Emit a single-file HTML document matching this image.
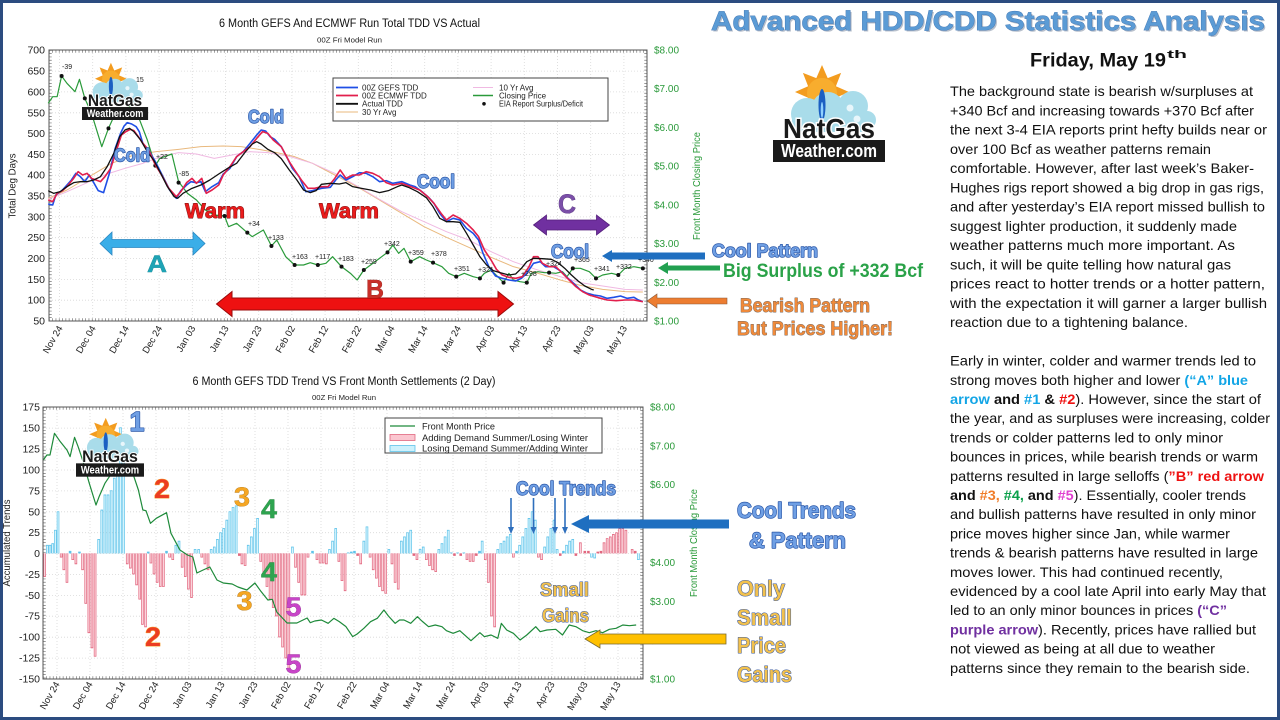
<!DOCTYPE html>
<html><head><meta charset="utf-8">
<style>
html,body{margin:0;padding:0;background:#fff;}
body{width:1280px;height:720px;overflow:hidden;}
svg{display:block;font-family:"Liberation Sans",Arial,sans-serif;}
.ax{font-size:10.5px;fill:#222;}
.axr{font-size:10px;fill:#2a9a3a;}
.tk{font-size:9.5px;fill:#222;}
.eia{font-size:7px;fill:#222;}
.lg{font-size:8px;fill:#222;}
.lg2{font-size:9.5px;fill:#222;}
.ann{font-weight:bold;paint-order:stroke;stroke-linejoin:round;}
.blu{fill:#6f9fe4;stroke:#2c58a8;stroke-width:1.4;}
.wrm{fill:#ea1c1c;stroke:#7a1010;stroke-width:0.9;}
.p{font-size:14px;fill:#111;white-space:pre;}
.b{font-weight:bold;}
</style></head>
<body>
<svg width="1280" height="720" viewBox="0 0 1280 720" xmlns="http://www.w3.org/2000/svg">
<rect x="0" y="0" width="1280" height="720" fill="#fff"/>

<!-- ================= TOP CHART ================= -->
<text x="349.5" y="27" text-anchor="middle" font-size="11.5" fill="#111" textLength="261" lengthAdjust="spacingAndGlyphs">6 Month GEFS And ECMWF Run Total TDD VS Actual</text>
<text x="349.5" y="42.5" text-anchor="middle" font-size="7" fill="#222" textLength="65" lengthAdjust="spacingAndGlyphs">00Z Fri Model Run</text>

<!-- grid -->
<g stroke="#d8d8d8" stroke-width="0.8" stroke-dasharray="1 2">
<line x1="49" x2="647" y1="300.2" y2="300.2"/><line x1="49" x2="647" y1="279.4" y2="279.4"/><line x1="49" x2="647" y1="258.5" y2="258.5"/><line x1="49" x2="647" y1="237.7" y2="237.7"/><line x1="49" x2="647" y1="216.9" y2="216.9"/><line x1="49" x2="647" y1="196.1" y2="196.1"/><line x1="49" x2="647" y1="175.2" y2="175.2"/><line x1="49" x2="647" y1="154.4" y2="154.4"/><line x1="49" x2="647" y1="133.6" y2="133.6"/><line x1="49" x2="647" y1="112.8" y2="112.8"/><line x1="49" x2="647" y1="91.9" y2="91.9"/><line x1="49" x2="647" y1="71.1" y2="71.1"/>
<line y1="50" y2="321" x1="59.5" x2="59.5"/><line y1="50" y2="321" x1="92.7" x2="92.7"/><line y1="50" y2="321" x1="125.9" x2="125.9"/><line y1="50" y2="321" x1="159.1" x2="159.1"/><line y1="50" y2="321" x1="192.3" x2="192.3"/><line y1="50" y2="321" x1="225.5" x2="225.5"/><line y1="50" y2="321" x1="258.7" x2="258.7"/><line y1="50" y2="321" x1="291.9" x2="291.9"/><line y1="50" y2="321" x1="325.1" x2="325.1"/><line y1="50" y2="321" x1="358.3" x2="358.3"/><line y1="50" y2="321" x1="391.5" x2="391.5"/><line y1="50" y2="321" x1="424.7" x2="424.7"/><line y1="50" y2="321" x1="457.9" x2="457.9"/><line y1="50" y2="321" x1="491.1" x2="491.1"/><line y1="50" y2="321" x1="524.3" x2="524.3"/><line y1="50" y2="321" x1="557.5" x2="557.5"/><line y1="50" y2="321" x1="590.7" x2="590.7"/><line y1="50" y2="321" x1="623.9" x2="623.9"/>
</g>
<!-- minor ticks -->
<g stroke="#777" stroke-width="2.5" stroke-dasharray="0.7 2.6">
<line x1="49" x2="647" y1="51.5" y2="51.5"/><line x1="49" x2="647" y1="319.5" y2="319.5"/>
<line x1="50.5" x2="50.5" y1="50" y2="321"/><line x1="645.5" x2="645.5" y1="50" y2="321"/>
</g>
<rect x="49" y="50" width="598" height="271" fill="none" stroke="#555" stroke-width="1"/>

<!-- left axis labels -->
<g class="ax" text-anchor="end">
<text x="45" y="53.5">700</text><text x="45" y="74.6">650</text><text x="45" y="95.4">600</text><text x="45" y="116.3">550</text><text x="45" y="137.1">500</text><text x="45" y="157.9">450</text><text x="45" y="178.7">400</text><text x="45" y="199.6">350</text><text x="45" y="220.4">300</text><text x="45" y="241.2">250</text><text x="45" y="262">200</text><text x="45" y="282.9">150</text><text x="45" y="303.7">100</text><text x="45" y="324.5">50</text>
</g>
<g class="axr">
<text x="654" y="53.5">$8.00</text><text x="654" y="92.2">$7.00</text><text x="654" y="130.9">$6.00</text><text x="654" y="169.6">$5.00</text><text x="654" y="208.4">$4.00</text><text x="654" y="247.1">$3.00</text><text x="654" y="285.8">$2.00</text><text x="654" y="324.5">$1.00</text>
</g>
<text transform="rotate(-90 15.5 186)" x="15.5" y="186" text-anchor="middle" font-size="10" fill="#222" textLength="65" lengthAdjust="spacingAndGlyphs">Total Deg Days</text>
<text transform="rotate(-90 700 186)" x="700" y="186" text-anchor="middle" font-size="10" fill="#2a9a3a" textLength="108" lengthAdjust="spacingAndGlyphs">Front Month Closing Price</text>

<!-- x tick labels top -->
<g class="tk" text-anchor="end">
<text x="63" y="328" transform="rotate(-60 63 328)">Nov 24</text>
<text x="96.2" y="328" transform="rotate(-60 96.2 328)">Dec 04</text>
<text x="129.4" y="328" transform="rotate(-60 129.4 328)">Dec 14</text>
<text x="162.6" y="328" transform="rotate(-60 162.6 328)">Dec 24</text>
<text x="195.8" y="328" transform="rotate(-60 195.8 328)">Jan 03</text>
<text x="229" y="328" transform="rotate(-60 229 328)">Jan 13</text>
<text x="262.2" y="328" transform="rotate(-60 262.2 328)">Jan 23</text>
<text x="295.4" y="328" transform="rotate(-60 295.4 328)">Feb 02</text>
<text x="328.6" y="328" transform="rotate(-60 328.6 328)">Feb 12</text>
<text x="361.8" y="328" transform="rotate(-60 361.8 328)">Feb 22</text>
<text x="395" y="328" transform="rotate(-60 395 328)">Mar 04</text>
<text x="428.2" y="328" transform="rotate(-60 428.2 328)">Mar 14</text>
<text x="461.4" y="328" transform="rotate(-60 461.4 328)">Mar 24</text>
<text x="494.6" y="328" transform="rotate(-60 494.6 328)">Apr 03</text>
<text x="527.8" y="328" transform="rotate(-60 527.8 328)">Apr 13</text>
<text x="561" y="328" transform="rotate(-60 561 328)">Apr 23</text>
<text x="594.2" y="328" transform="rotate(-60 594.2 328)">May 03</text>
<text x="627.4" y="328" transform="rotate(-60 627.4 328)">May 13</text>
</g>

<!-- top series (zoom coordinates scaled) -->
<g transform="scale(0.446429 0.333333)" fill="none" stroke-linejoin="round">
<polyline vector-effect="non-scaling-stroke" stroke="#e9b97e" stroke-width="1" points="108,595 150,570 200,530 250,490 300,465 350,455 400,448 450,440 500,438 540,440 580,448 620,458 660,470 700,490 750,525 800,560 850,600 900,640 950,680 1000,712 1050,742 1100,772 1150,800 1200,818 1250,838 1300,856 1350,868 1400,875 1440,876"/>
<polyline vector-effect="non-scaling-stroke" stroke="#f0b9e2" stroke-width="1" points="108,598 150,575 200,545 240,522 280,505 320,490 360,470 400,458 440,462 480,475 520,465 560,455 600,458 650,470 700,490 750,520 800,558 850,598 900,635 950,665 1000,695 1050,720 1100,755 1150,785 1200,808 1250,828 1300,848 1350,858 1400,868 1440,870"/>
<polyline vector-effect="non-scaling-stroke" stroke="#2a9a3a" stroke-width="1.2" points="108,310 118,290 128,290 138,228 150,250 168,275 178,238 190,295 205,340 228,440 243,385 255,350 270,330 290,320 310,350 330,420 348,497 358,475 385,462 400,545 420,580 440,600 460,630 480,645 503,648 512,680 530,670 554,698 565,710 590,690 608,738 620,720 640,770 660,795 680,795 695,788 712,795 730,790 745,770 765,800 785,820 800,840 815,810 835,790 850,775 868,757 880,735 893,760 905,745 920,785 940,770 955,780 970,788 990,800 1005,820 1022,830 1040,820 1060,830 1075,835 1085,820 1100,810 1115,830 1128,848 1140,820 1150,840 1165,845 1180,848 1190,820 1205,815 1220,818 1230,818 1245,820 1260,815 1270,830 1283,805 1300,805 1320,815 1335,835 1350,825 1370,820 1385,825 1400,805 1420,800 1440,805"/>
<g fill="#111" stroke="none">
<ellipse cx="138" cy="228" rx="4.5" ry="6"/><ellipse cx="190" cy="295" rx="4.5" ry="6"/><ellipse cx="243" cy="385" rx="4.5" ry="6"/><ellipse cx="348" cy="497" rx="4.5" ry="6"/><ellipse cx="400" cy="548" rx="4.5" ry="6"/><ellipse cx="503" cy="648" rx="4.5" ry="6"/><ellipse cx="554" cy="698" rx="4.5" ry="6"/><ellipse cx="608" cy="738" rx="4.5" ry="6"/><ellipse cx="660" cy="795" rx="4.5" ry="6"/><ellipse cx="712" cy="795" rx="4.5" ry="6"/><ellipse cx="765" cy="800" rx="4.5" ry="6"/><ellipse cx="815" cy="810" rx="4.5" ry="6"/><ellipse cx="868" cy="757" rx="4.5" ry="6"/><ellipse cx="920" cy="785" rx="4.5" ry="6"/><ellipse cx="970" cy="788" rx="4.5" ry="6"/><ellipse cx="1022" cy="830" rx="4.5" ry="6"/><ellipse cx="1075" cy="835" rx="4.5" ry="6"/><ellipse cx="1128" cy="848" rx="4.5" ry="6"/><ellipse cx="1180" cy="848" rx="4.5" ry="6"/><ellipse cx="1230" cy="818" rx="4.5" ry="6"/><ellipse cx="1283" cy="805" rx="4.5" ry="6"/><ellipse cx="1335" cy="835" rx="4.5" ry="6"/><ellipse cx="1385" cy="825" rx="4.5" ry="6"/><ellipse cx="1440" cy="805" rx="4.5" ry="6"/>
</g>
<polyline vector-effect="non-scaling-stroke" stroke="#1f4fe6" stroke-width="1.6" points="108,612 118,615 125,585 140,570 150,555 160,540 170,520 180,530 190,545 200,525 210,548 220,572 232,578 245,520 258,445 270,400 278,378 285,368 295,372 305,380 312,395 320,430 335,455 350,490 365,530 380,570 395,595 405,572 418,555 428,545 440,548 450,545 460,575 475,560 490,548 500,522 515,505 530,470 545,455 560,430 575,405 585,390 595,393 605,410 615,418 630,440 645,478 655,505 670,530 685,575 700,572 720,565 740,562 752,540 762,525 775,540 790,530 805,518 820,520 835,530 850,545 865,542 880,550 900,545 918,555 930,560 945,575 960,592 972,610 985,640 1000,665 1015,655 1030,660 1045,685 1060,700 1072,720 1082,760 1095,800 1110,828 1125,835 1140,840 1155,843 1168,835 1180,820 1195,790 1210,785 1222,800 1240,800 1255,812 1270,832 1285,850 1300,870 1315,880 1330,885 1345,888 1360,895 1375,892 1390,888 1405,895 1420,892 1430,900 1440,905"/>
<polyline vector-effect="non-scaling-stroke" stroke="#e21f4c" stroke-width="1.6" points="108,600 118,605 128,580 140,572 150,560 165,535 175,515 185,525 195,520 205,535 215,540 225,545 235,530 248,505 260,455 272,405 282,395 292,388 300,392 310,410 320,430 333,450 348,495 362,525 378,565 395,590 405,575 418,548 430,535 440,550 452,535 462,580 475,570 490,555 500,525 515,500 530,470 545,455 560,440 575,415 588,395 600,400 612,420 630,440 648,485 660,510 675,540 690,565 705,565 720,560 735,560 750,535 762,510 775,535 790,525 805,525 820,515 835,520 850,530 865,548 880,555 900,550 920,560 940,570 958,590 972,610 988,640 1000,660 1015,645 1030,655 1045,670 1060,690 1072,710 1085,750 1100,780 1112,808 1125,825 1140,832 1155,835 1170,830 1185,800 1195,770 1205,770 1215,790 1230,800 1245,800 1260,820 1275,840 1290,860 1305,875 1320,885 1340,893 1360,900 1380,902 1400,900 1420,900 1440,905"/>
<polyline vector-effect="non-scaling-stroke" stroke="#111" stroke-width="1.3" points="108,572 120,580 135,575 150,560 165,548 180,545 195,545 210,540 225,530 240,500 255,460 268,410 280,390 290,385 300,395 315,420 330,455 345,482 360,520 375,560 390,590 398,595 410,580 430,565 450,555 470,540 490,522 510,505 530,490 550,455 565,432 575,425 585,432 600,448 615,458 630,476 648,510 665,540 680,570 695,578 708,572 720,553 740,550 760,552 775,548 790,560 810,565 830,570 850,578 870,572 890,560 900,555 915,562 935,575 955,593 970,620 985,655 1000,665 1015,665 1030,667 1045,700 1060,735 1075,770 1090,795 1105,812 1120,818 1140,825 1155,822 1168,805 1180,785 1195,775 1215,776 1235,778 1250,788 1265,805 1280,825 1295,843 1310,858 1325,868 1330,870"/>
</g>

<!-- EIA labels -->
<g class="eia">
<text x="62" y="69">-39</text><text x="136" y="82">15</text><text x="156" y="159">+22</text><text x="179" y="176">-85</text><text x="248" y="226">+34</text><text x="268" y="240">+133</text><text x="292" y="259">+163</text><text x="315" y="259">+117</text><text x="338" y="261">+183</text><text x="361" y="264">+259</text><text x="384" y="246">+342</text><text x="408" y="255">+359</text><text x="431" y="256">+378</text><text x="454" y="271">+351</text><text x="478" y="272">+321</text><text x="521" y="276">+298</text><text x="546" y="266">+324</text><text x="574" y="262">+365</text><text x="594" y="271">+341</text><text x="616" y="269">+332</text><text x="638" y="262">+340</text>
</g>

<!-- top legend -->
<rect x="333" y="78" width="275" height="43" fill="#fff" stroke="#444" stroke-width="1"/>
<line x1="336" x2="358" y1="87.5" y2="87.5" stroke="#1f4fe6" stroke-width="1.8"/>
<line x1="336" x2="358" y1="95.5" y2="95.5" stroke="#e21f4c" stroke-width="1.8"/>
<line x1="336" x2="358" y1="103.8" y2="103.8" stroke="#111" stroke-width="1.8"/>
<line x1="336" x2="358" y1="112" y2="112" stroke="#e9b97e" stroke-width="1"/>
<line x1="473" x2="493" y1="87.5" y2="87.5" stroke="#f0b9e2" stroke-width="1"/>
<line x1="473" x2="493" y1="95.5" y2="95.5" stroke="#2a9a3a" stroke-width="1.4"/>
<circle cx="484" cy="103.8" r="1.8" fill="#111"/>
<g class="lg">
<text x="362" y="90.3">00Z GEFS TDD</text><text x="362" y="98.3">00Z ECMWF TDD</text><text x="362" y="106.6">Actual TDD</text><text x="362" y="114.8">30 Yr Avg</text>
<text x="499" y="90.3">10 Yr Avg</text><text x="499" y="98.3">Closing Price</text><text x="499" y="106.6" textLength="84" lengthAdjust="spacingAndGlyphs">EIA Report Surplus/Deficit</text>
</g>

<!-- ================= BOTTOM CHART ================= -->
<text x="344" y="385" text-anchor="middle" font-size="11.5" fill="#111" textLength="303" lengthAdjust="spacingAndGlyphs">6 Month GEFS TDD Trend VS Front Month Settlements (2 Day)</text>
<text x="344" y="400" text-anchor="middle" font-size="7" fill="#222" textLength="64" lengthAdjust="spacingAndGlyphs">00Z Fri Model Run</text>

<g stroke="#d8d8d8" stroke-width="0.8" stroke-dasharray="1 2">
<line x1="43" x2="643" y1="658.1" y2="658.1"/><line x1="43" x2="643" y1="637.2" y2="637.2"/><line x1="43" x2="643" y1="616.2" y2="616.2"/><line x1="43" x2="643" y1="595.4" y2="595.4"/><line x1="43" x2="643" y1="574.5" y2="574.5"/><line x1="43" x2="643" y1="553.6" y2="553.6"/><line x1="43" x2="643" y1="532.7" y2="532.7"/><line x1="43" x2="643" y1="511.8" y2="511.8"/><line x1="43" x2="643" y1="490.9" y2="490.9"/><line x1="43" x2="643" y1="470" y2="470"/><line x1="43" x2="643" y1="449" y2="449"/><line x1="43" x2="643" y1="428.1" y2="428.1"/>
<line y1="407" y2="679" x1="57" x2="57"/><line y1="407" y2="679" x1="90" x2="90"/><line y1="407" y2="679" x1="123" x2="123"/><line y1="407" y2="679" x1="156" x2="156"/><line y1="407" y2="679" x1="189" x2="189"/><line y1="407" y2="679" x1="222" x2="222"/><line y1="407" y2="679" x1="255" x2="255"/><line y1="407" y2="679" x1="288" x2="288"/><line y1="407" y2="679" x1="321" x2="321"/><line y1="407" y2="679" x1="354" x2="354"/><line y1="407" y2="679" x1="387" x2="387"/><line y1="407" y2="679" x1="420" x2="420"/><line y1="407" y2="679" x1="453" x2="453"/><line y1="407" y2="679" x1="486" x2="486"/><line y1="407" y2="679" x1="519" x2="519"/><line y1="407" y2="679" x1="552" x2="552"/><line y1="407" y2="679" x1="585" x2="585"/><line y1="407" y2="679" x1="618" x2="618"/>
</g>
<g stroke="#777" stroke-width="2.5" stroke-dasharray="0.7 2.6">
<line x1="43" x2="643" y1="408.5" y2="408.5"/><line x1="43" x2="643" y1="677.5" y2="677.5"/>
<line x1="44.5" x2="44.5" y1="407" y2="679"/><line x1="641.5" x2="641.5" y1="407" y2="679"/>
</g>

<!-- bars -->
<g transform="translate(0 360) scale(0.446429 0.333333)" fill="none">
<g transform="translate(0 580) scale(1 -2.52)">
<path stroke="#e2677f" stroke-width="5.8" d="M100 0V-28M137 0V-5M143 0V-20M150 0V-35M163 0V-8M170 0V-13M185 0V-20M192 0V-60M199 0V-95M206 0V-113M213 0V-123M285 0V-13M292 0V-18M299 0V-25M306 0V-38M313 0V-55M319 0V-85M326 0V-88M338 0V-12M345 0V-25M352 0V-35M359 0V-40M366 0V-40M380 0V-5M387 0V-8M408 0V-17M415 0V-28M422 0V-43M429 0V-53M452 0V-5M459 0V-13M466 0V-20M536 0V-3M542 0V-13M549 0V-15M584 0V-10M591 0V-25M598 0V-40M605 0V-55M612 0V-65M619 0V-75M626 0V-100M633 0V-112M640 0V-125M647 0V-140M662 0V-17M669 0V-35M676 0V-50M683 0V-50M690 0V-5M710 0V-8M717 0V-12M724 0V-12M731 0V-13M759 0V-10M766 0V-33M773 0V-45M801 0V-3M808 0V-13M829 0V-5M836 0V-20M843 0V-30M850 0V-40M857 0V-45M864 0V-48M878 0V-13M885 0V-35M892 0V-43M927 0V-3M934 0V-8M955 0V-8M962 0V-15M969 0V-20M976 0V-22M1018 0V-3M1032 0V-3M1046 0V-8M1053 0V-10M1060 0V-10M1067 0V-3M1087 0V-8M1094 0V-35M1101 0V-75M1108 0V-88M1150 0V-5M1206 0V-5M1213 0V-8M1255 0V-3M1290 0V-3M1300 0V13M1310 0V3M1318 0V3M1339 0V2M1346 0V3M1353 0V13M1360 0V18M1367 0V20M1374 0V23M1381 0V25M1388 0V30M1395 0V30M1402 0V28M1416 0V5M1423 0V3"/>
<path stroke="#fbd3db" stroke-width="2.8" d="M100 0V-27M137 0V-4M143 0V-19M150 0V-34M163 0V-7M170 0V-12M185 0V-19M192 0V-59M199 0V-94M206 0V-112M213 0V-122M285 0V-12M292 0V-17M299 0V-24M306 0V-37M313 0V-54M319 0V-84M326 0V-87M338 0V-11M345 0V-24M352 0V-34M359 0V-39M366 0V-39M380 0V-4M387 0V-7M408 0V-16M415 0V-27M422 0V-42M429 0V-52M452 0V-4M459 0V-12M466 0V-19M542 0V-12M549 0V-14M584 0V-9M591 0V-24M598 0V-39M605 0V-54M612 0V-64M619 0V-74M626 0V-99M633 0V-111M640 0V-124M647 0V-139M662 0V-16M669 0V-34M676 0V-49M683 0V-49M690 0V-4M710 0V-7M717 0V-11M724 0V-11M731 0V-12M759 0V-9M766 0V-32M773 0V-44M808 0V-12M829 0V-4M836 0V-19M843 0V-29M850 0V-39M857 0V-44M864 0V-47M878 0V-12M885 0V-34M892 0V-42M934 0V-7M955 0V-7M962 0V-14M969 0V-19M976 0V-21M1046 0V-7M1053 0V-9M1060 0V-9M1087 0V-7M1094 0V-34M1101 0V-74M1108 0V-87M1150 0V-4M1206 0V-4M1213 0V-7M1300 0V12M1353 0V12M1360 0V17M1367 0V19M1374 0V22M1381 0V24M1388 0V29M1395 0V29M1402 0V27M1416 0V4"/>
<path stroke="#5ec3ea" stroke-width="5.8" d="M106 0V10M112 0V10M118 0V12M124 0V28M130 0V50M157 0V3M178 0V2M221 0V17M228 0V52M235 0V70M242 0V70M249 0V75M256 0V90M263 0V100M270 0V150M277 0V115M332 0V2M373 0V3M394 0V10M401 0V15M437 0V5M445 0V5M473 0V5M480 0V8M487 0V17M494 0V25M501 0V30M508 0V40M515 0V50M522 0V55M529 0V57M556 0V10M563 0V20M570 0V30M577 0V42M655 0V8M700 0V3M738 0V5M745 0V15M752 0V30M780 0V1M787 0V2M794 0V3M815 0V15M822 0V32M871 0V5M899 0V15M906 0V20M913 0V25M920 0V28M941 0V5M948 0V8M983 0V5M990 0V12M997 0V20M1004 0V28M1011 0V1M1025 0V1M1039 0V1M1074 0V3M1080 0V15M1115 0V5M1122 0V12M1129 0V15M1136 0V20M1143 0V23M1157 0V3M1164 0V10M1171 0V20M1178 0V30M1185 0V42M1192 0V50M1199 0V40M1220 0V8M1227 0V20M1234 0V30M1241 0V40M1248 0V5M1262 0V3M1269 0V10M1276 0V15M1283 0V17M1325 0V-5M1332 0V-6M1430 0V-8"/>
<path stroke="#d8f5fd" stroke-width="2.8" d="M106 0V9M112 0V9M118 0V11M124 0V27M130 0V49M221 0V16M228 0V51M235 0V69M242 0V69M249 0V74M256 0V89M263 0V99M270 0V149M277 0V114M394 0V9M401 0V14M437 0V4M445 0V4M473 0V4M480 0V7M487 0V16M494 0V24M501 0V29M508 0V39M515 0V49M522 0V54M529 0V56M556 0V9M563 0V19M570 0V29M577 0V41M655 0V7M738 0V4M745 0V14M752 0V29M815 0V14M822 0V31M871 0V4M899 0V14M906 0V19M913 0V24M920 0V27M941 0V4M948 0V7M983 0V4M990 0V11M997 0V19M1004 0V27M1080 0V14M1115 0V4M1122 0V11M1129 0V14M1136 0V19M1143 0V22M1164 0V9M1171 0V19M1178 0V29M1185 0V41M1192 0V49M1199 0V39M1220 0V7M1227 0V19M1234 0V29M1241 0V39M1248 0V4M1269 0V9M1276 0V14M1283 0V16M1325 0V-4M1332 0V-5M1430 0V-7"/>
</g>
<polyline vector-effect="non-scaling-stroke" stroke="#1e8a3a" stroke-width="1.2" stroke-linejoin="round" points="97,300 105,285 112,285 122,220 135,245 150,270 157,290 167,232 175,260 185,300 200,370 215,435 222,410 235,370 250,340 270,320 290,320 300,350 310,390 320,450 327,452 337,490 350,475 373,458 383,520 395,550 403,570 420,585 432,591 441,639 455,630 470,621 486,660 500,669 520,672 533,681 553,690 571,669 585,695 600,720 610,718 620,756 643,789 665,789 688,774 695,788 705,783 720,780 735,790 748,775 760,785 775,800 790,830 800,822 815,805 830,785 845,775 860,750 870,768 885,790 895,780 905,780 920,790 935,770 945,783 960,800 975,795 990,800 1000,812 1015,820 1030,812 1045,830 1055,842 1065,830 1075,818 1085,830 1100,825 1115,835 1123,790 1135,810 1150,820 1165,840 1180,825 1200,800 1210,815 1225,810 1245,808 1260,825 1275,795 1290,800 1305,812 1320,818 1335,812 1350,818 1365,808 1380,805 1395,795 1410,797 1425,795"/>
</g>
<rect x="43" y="407" width="600" height="272" fill="none" stroke="#555" stroke-width="1"/>

<g class="ax" text-anchor="end">
<text x="40" y="410.5">175</text><text x="40" y="431.6">150</text><text x="40" y="452.5">125</text><text x="40" y="473.5">100</text><text x="40" y="494.4">75</text><text x="40" y="515.3">50</text><text x="40" y="536.2">25</text><text x="40" y="557.1">0</text><text x="40" y="578">-25</text><text x="40" y="598.9">-50</text><text x="40" y="619.7">-75</text><text x="40" y="640.7">-100</text><text x="40" y="661.6">-125</text><text x="40" y="682.5">-150</text>
</g>
<g class="axr" font-size="9.5">
<text x="650" y="410.5">$8.00</text><text x="650" y="449.4">$7.00</text><text x="650" y="488.2">$6.00</text><text x="650" y="527.1">$5.00</text><text x="650" y="565.9">$4.00</text><text x="650" y="604.8">$3.00</text><text x="650" y="643.6">$2.00</text><text x="650" y="682.5">$1.00</text>
</g>
<text transform="rotate(-90 10 543)" x="10" y="543" text-anchor="middle" font-size="10" fill="#222" textLength="87" lengthAdjust="spacingAndGlyphs">Accumulated Trends</text>
<text transform="rotate(-90 697 543)" x="697" y="543" text-anchor="middle" font-size="10" fill="#2a9a3a" textLength="108" lengthAdjust="spacingAndGlyphs">Front Month Closing Price</text>

<g class="tk" text-anchor="end">
<text x="60" y="684" transform="rotate(-60 60 684)">Nov 24</text>
<text x="93" y="684" transform="rotate(-60 93 684)">Dec 04</text>
<text x="126" y="684" transform="rotate(-60 126 684)">Dec 14</text>
<text x="159" y="684" transform="rotate(-60 159 684)">Dec 24</text>
<text x="192" y="684" transform="rotate(-60 192 684)">Jan 03</text>
<text x="225" y="684" transform="rotate(-60 225 684)">Jan 13</text>
<text x="258" y="684" transform="rotate(-60 258 684)">Jan 23</text>
<text x="291" y="684" transform="rotate(-60 291 684)">Feb 02</text>
<text x="324" y="684" transform="rotate(-60 324 684)">Feb 12</text>
<text x="357" y="684" transform="rotate(-60 357 684)">Feb 22</text>
<text x="390" y="684" transform="rotate(-60 390 684)">Mar 04</text>
<text x="423" y="684" transform="rotate(-60 423 684)">Mar 14</text>
<text x="456" y="684" transform="rotate(-60 456 684)">Mar 24</text>
<text x="489" y="684" transform="rotate(-60 489 684)">Apr 03</text>
<text x="522" y="684" transform="rotate(-60 522 684)">Apr 13</text>
<text x="555" y="684" transform="rotate(-60 555 684)">Apr 23</text>
<text x="588" y="684" transform="rotate(-60 588 684)">May 03</text>
<text x="621" y="684" transform="rotate(-60 621 684)">May 13</text>
</g>

<!-- bottom legend -->
<rect x="385" y="418" width="217" height="35" fill="#fff" stroke="#444" stroke-width="1"/>
<line x1="390" x2="415" y1="426" y2="426" stroke="#1e8a3a" stroke-width="1.3"/>
<rect x="390" y="434.5" width="25" height="6" fill="#fbc6d0" stroke="#e2677f" stroke-width="0.8"/>
<rect x="390" y="445.5" width="25" height="6" fill="#cdf1fc" stroke="#5ec3ea" stroke-width="0.8"/>
<g class="lg2">
<text x="422" y="429.5" textLength="73" lengthAdjust="spacingAndGlyphs">Front Month Price</text>
<text x="422" y="441" textLength="166" lengthAdjust="spacingAndGlyphs">Adding Demand Summer/Losing Winter</text>
<text x="422" y="451.5" textLength="166" lengthAdjust="spacingAndGlyphs">Losing Demand Summer/Adding Winter</text>
</g>

<!-- ================= LOGOS ================= -->
<g transform="translate(773 62)">
<polygon fill="#f39c1f" points="49,3 54.7,16.1 68.1,10.9 62.9,24.3 76,30 62.9,35.7 68.1,49.1 54.7,43.9 49,57 43.3,43.9 29.9,49.1 35.1,35.7 22,30 35.1,24.3 29.9,10.9 43.3,16.1"/>
<circle cx="49" cy="31" r="15" fill="#f8ad2e"/>
<g fill="#a9dcea"><circle cx="34" cy="52" r="16"/><circle cx="55" cy="46" r="16"/><circle cx="80" cy="44" r="15"/><circle cx="94" cy="58" r="9"/><rect x="19" y="50" width="82" height="20" rx="8"/></g>
<ellipse cx="49" cy="43" rx="3.5" ry="16" fill="#1b5fc2"/><ellipse cx="49" cy="48" rx="1.3" ry="8" fill="#8fd0ff"/>
<circle cx="77" cy="46" r="3.5" fill="#e8f6fb"/><circle cx="84" cy="57" r="3.5" fill="#e8f6fb"/>
<text x="10" y="76" font-size="28" font-weight="bold" fill="#1a1a1a" stroke="#fff" stroke-width="3" paint-order="stroke" textLength="92" lengthAdjust="spacingAndGlyphs">NatGas</text>
<rect x="0" y="78" width="112" height="22" fill="#1a1a1a"/>
<text x="56" y="95" text-anchor="middle" font-size="18" font-weight="bold" fill="#fff" textLength="96" lengthAdjust="spacingAndGlyphs">Weather.com</text>
</g>
<g transform="translate(82 61) scale(0.59)">
<polygon fill="#f39c1f" points="49,3 54.7,16.1 68.1,10.9 62.9,24.3 76,30 62.9,35.7 68.1,49.1 54.7,43.9 49,57 43.3,43.9 29.9,49.1 35.1,35.7 22,30 35.1,24.3 29.9,10.9 43.3,16.1"/>
<circle cx="49" cy="31" r="15" fill="#f8ad2e"/>
<g fill="#a9dcea"><circle cx="34" cy="52" r="16"/><circle cx="55" cy="46" r="16"/><circle cx="80" cy="44" r="15"/><circle cx="94" cy="58" r="9"/><rect x="19" y="50" width="82" height="20" rx="8"/></g>
<ellipse cx="49" cy="43" rx="3.5" ry="16" fill="#1b5fc2"/>
<circle cx="77" cy="46" r="3.5" fill="#e8f6fb"/><circle cx="84" cy="57" r="3.5" fill="#e8f6fb"/>
<text x="10" y="76" font-size="28" font-weight="bold" fill="#1a1a1a" stroke="#fff" stroke-width="3" paint-order="stroke" textLength="92" lengthAdjust="spacingAndGlyphs">NatGas</text>
<rect x="0" y="78" width="112" height="22" fill="#1a1a1a"/>
<text x="56" y="95" text-anchor="middle" font-size="18" font-weight="bold" fill="#fff" textLength="96" lengthAdjust="spacingAndGlyphs">Weather.com</text>
</g>
<g transform="translate(76 416) scale(0.607)">
<polygon fill="#f39c1f" points="49,3 54.7,16.1 68.1,10.9 62.9,24.3 76,30 62.9,35.7 68.1,49.1 54.7,43.9 49,57 43.3,43.9 29.9,49.1 35.1,35.7 22,30 35.1,24.3 29.9,10.9 43.3,16.1"/>
<circle cx="49" cy="31" r="15" fill="#f8ad2e"/>
<g fill="#a9dcea"><circle cx="34" cy="52" r="16"/><circle cx="55" cy="46" r="16"/><circle cx="80" cy="44" r="15"/><circle cx="94" cy="58" r="9"/><rect x="19" y="50" width="82" height="20" rx="8"/></g>
<ellipse cx="49" cy="43" rx="3.5" ry="16" fill="#1b5fc2"/>
<circle cx="77" cy="46" r="3.5" fill="#e8f6fb"/><circle cx="84" cy="57" r="3.5" fill="#e8f6fb"/>
<text x="10" y="76" font-size="28" font-weight="bold" fill="#1a1a1a" stroke="#fff" stroke-width="3" paint-order="stroke" textLength="92" lengthAdjust="spacingAndGlyphs">NatGas</text>
<rect x="0" y="78" width="112" height="22" fill="#1a1a1a"/>
<text x="56" y="95" text-anchor="middle" font-size="18" font-weight="bold" fill="#fff" textLength="96" lengthAdjust="spacingAndGlyphs">Weather.com</text>
</g>

<!-- ================= TOP ANNOTATIONS ================= -->
<polygon fill="#3aaee8" stroke="#2a86c0" stroke-width="0.8" points="100,243.5 112,232 112,239.5 193,239.5 193,232 205,243.5 193,255 193,247.5 112,247.5 112,255"/>
<polygon fill="#7030a0" stroke="#55207c" stroke-width="0.8" points="533.5,225 546.5,215 546.5,220 596.5,220 596.5,215 609.5,225 596.5,235 596.5,230 546.5,230 546.5,235"/>
<polygon fill="#ee1111" stroke="#9a0a0a" stroke-width="1" points="216.5,304 232,291.5 232,298 498,298 498,291.5 513.5,304 498,316.5 498,310 232,310 232,316.5"/>

<text class="ann blu" x="248" y="123" font-size="18" textLength="36" lengthAdjust="spacingAndGlyphs">Cold</text>
<text class="ann blu" x="114" y="161.5" font-size="18" textLength="36" lengthAdjust="spacingAndGlyphs">Cold</text>
<text class="ann wrm" x="185" y="218" font-size="21" textLength="60" lengthAdjust="spacingAndGlyphs">Warm</text>
<text class="ann wrm" x="319" y="218" font-size="21" textLength="60" lengthAdjust="spacingAndGlyphs">Warm</text>
<text class="ann blu" x="417" y="188" font-size="19" textLength="38" lengthAdjust="spacingAndGlyphs">Cool</text>
<text class="ann blu" x="551" y="258" font-size="19" textLength="38" lengthAdjust="spacingAndGlyphs">Cool</text>
<text class="ann" x="558" y="213" font-size="27" fill="#7b4fa8" stroke="#4a2a70" stroke-width="0.6" textLength="18" lengthAdjust="spacingAndGlyphs">C</text>
<text class="ann" x="147" y="272" font-size="24" fill="#1ea3b5" stroke="#15808e" stroke-width="0.5" textLength="20" lengthAdjust="spacingAndGlyphs">A</text>
<text class="ann" x="366" y="298" font-size="26" fill="#c8302a" stroke="#7a1a10" stroke-width="0.5" textLength="18" lengthAdjust="spacingAndGlyphs">B</text>

<polygon fill="#1f6fc0" points="602,256 612,250 612,252.5 705,252.5 705,259.5 612,259.5 612,262"/>
<polygon fill="#22a050" points="658,268 668,262 668,265.5 720,265.5 720,270.5 668,270.5 668,274"/>
<polygon fill="#ed7d31" stroke="#8a5a3a" stroke-width="0.6" points="647,301 657,294 657,298 727,298 727,304 657,304 657,308"/>
<text class="ann blu" x="712" y="257" font-size="18" textLength="106" lengthAdjust="spacingAndGlyphs">Cool Pattern</text>
<text x="723" y="277" font-size="19" font-weight="bold" fill="#2aa248" textLength="200" lengthAdjust="spacingAndGlyphs">Big Surplus  of +332 Bcf</text>
<text class="ann" x="740" y="312" font-size="19" fill="#f08a3a" stroke="#7a6a60" stroke-width="0.9" textLength="130" lengthAdjust="spacingAndGlyphs">Bearish Pattern</text>
<text class="ann" x="737" y="335" font-size="19" fill="#f08a3a" stroke="#7a6a60" stroke-width="0.9" textLength="156" lengthAdjust="spacingAndGlyphs">But Prices Higher!</text>

<!-- ================= BOTTOM ANNOTATIONS ================= -->
<text class="ann blu" x="129.5" y="431" font-size="28" textLength="15" lengthAdjust="spacingAndGlyphs">1</text>
<text class="ann" x="154" y="498" font-size="27" fill="#ec3d22" stroke="#f5a030" stroke-width="1" textLength="16" lengthAdjust="spacingAndGlyphs">2</text>
<text class="ann" x="145" y="646" font-size="27" fill="#ec3d22" stroke="#f5a030" stroke-width="1" textLength="16" lengthAdjust="spacingAndGlyphs">2</text>
<text class="ann" x="234" y="506" font-size="27" fill="#f5a623" stroke="#9a6a20" stroke-width="0.6" textLength="16" lengthAdjust="spacingAndGlyphs">3</text>
<text class="ann" x="236.5" y="610" font-size="27" fill="#f5a623" stroke="#9a6a20" stroke-width="0.6" textLength="16" lengthAdjust="spacingAndGlyphs">3</text>
<text class="ann" x="261" y="518" font-size="27" fill="#2ea44f" stroke="#1a6a30" stroke-width="0.4" textLength="16" lengthAdjust="spacingAndGlyphs">4</text>
<text class="ann" x="261" y="581" font-size="27" fill="#2ea44f" stroke="#1a6a30" stroke-width="0.4" textLength="16" lengthAdjust="spacingAndGlyphs">4</text>
<text class="ann" x="285.5" y="616" font-size="27" fill="#c845c8" stroke="#7a2a7a" stroke-width="0.5" textLength="16" lengthAdjust="spacingAndGlyphs">5</text>
<text class="ann" x="285.5" y="673" font-size="27" fill="#c845c8" stroke="#7a2a7a" stroke-width="0.5" textLength="16" lengthAdjust="spacingAndGlyphs">5</text>

<text class="ann blu" x="516" y="495" font-size="19" textLength="100" lengthAdjust="spacingAndGlyphs">Cool Trends</text>
<g stroke="#2e6fbd" stroke-width="1.6" fill="#2e6fbd">
<line x1="511" y1="498" x2="511" y2="528"/><polygon stroke="none" points="508,527 514,527 511,534"/>
<line x1="533.5" y1="498" x2="533.5" y2="528"/><polygon stroke="none" points="530.5,527 536.5,527 533.5,534"/>
<line x1="555" y1="498" x2="555" y2="528"/><polygon stroke="none" points="552,527 558,527 555,534"/>
<line x1="565" y1="498" x2="565" y2="528"/><polygon stroke="none" points="562,527 568,527 565,534"/>
</g>
<polygon fill="#1f6fc0" points="571,524 589,515 589,519.5 729,519.5 729,528.5 589,528.5 589,533"/>
<polygon fill="#ffc000" stroke="#7a6a30" stroke-width="0.8" points="585,639 600,630 600,634 726,634 726,644 600,644 600,648"/>

<g class="ann" fill="#f2c14e" stroke="#3a5aa0" stroke-width="1.1">
<text x="540" y="596" font-size="19" textLength="49" lengthAdjust="spacingAndGlyphs">Small</text>
<text x="542" y="622" font-size="19" textLength="47" lengthAdjust="spacingAndGlyphs">Gains</text>
<text x="737" y="596" font-size="22" textLength="48" lengthAdjust="spacingAndGlyphs">Only</text>
<text x="737" y="625" font-size="22" textLength="55" lengthAdjust="spacingAndGlyphs">Small</text>
<text x="737" y="653" font-size="22" textLength="49" lengthAdjust="spacingAndGlyphs">Price</text>
<text x="737" y="682" font-size="22" textLength="55" lengthAdjust="spacingAndGlyphs">Gains</text>
</g>
<text class="ann blu" x="737" y="518" font-size="22" textLength="119" lengthAdjust="spacingAndGlyphs">Cool Trends</text>
<text class="ann blu" x="749" y="548" font-size="22" textLength="97" lengthAdjust="spacingAndGlyphs">&amp; Pattern</text>

<!-- ================= RIGHT TEXT ================= -->
<text x="712.5" y="31.5" font-size="27" font-weight="bold" fill="#b8c0cc" textLength="554" lengthAdjust="spacingAndGlyphs">Advanced HDD/CDD Statistics Analysis</text>
<text x="711" y="30" font-size="27" font-weight="bold" fill="#5b9bd5" stroke="#3a6fae" stroke-width="0.7" paint-order="stroke" textLength="554" lengthAdjust="spacingAndGlyphs">Advanced HDD/CDD Statistics Analysis</text>

<text x="1030" y="66.7" font-size="19.5" font-weight="bold" fill="#111" textLength="136" lengthAdjust="spacingAndGlyphs">Friday, May 19</text>
<text x="1167" y="58" font-size="11" font-weight="bold" fill="#111" textLength="20" lengthAdjust="spacingAndGlyphs">th</text>

<g class="p">
<text x="950" y="96.2" textLength="303" lengthAdjust="spacingAndGlyphs">The background state is bearish w/surpluses at</text>
<text x="950" y="115.5" textLength="304" lengthAdjust="spacingAndGlyphs">+340 Bcf and increasing towards +370 Bcf after</text>
<text x="950" y="134.7" textLength="317" lengthAdjust="spacingAndGlyphs">the next 3-4 EIA reports print hefty builds near or</text>
<text x="950" y="154" textLength="261" lengthAdjust="spacingAndGlyphs">over 100 Bcf as weather patterns remain</text>
<text x="950" y="173.2" textLength="304" lengthAdjust="spacingAndGlyphs">comfortable.  However, after last week’s Baker-</text>
<text x="950" y="192.5" textLength="314" lengthAdjust="spacingAndGlyphs">Hughes rigs report showed a big drop in gas rigs,</text>
<text x="950" y="211.7" textLength="315" lengthAdjust="spacingAndGlyphs">and after yesterday’s EIA report missed bullish to</text>
<text x="950" y="231" textLength="287" lengthAdjust="spacingAndGlyphs">suggest lighter production, it suddenly made</text>
<text x="950" y="250.2" textLength="285" lengthAdjust="spacingAndGlyphs">weather patterns much more important.  As</text>
<text x="950" y="269.5" textLength="281" lengthAdjust="spacingAndGlyphs">such, it will be quite telling how natural gas</text>
<text x="950" y="288.7" textLength="315" lengthAdjust="spacingAndGlyphs">prices react to hotter trends or a hotter pattern,</text>
<text x="950" y="308" textLength="317" lengthAdjust="spacingAndGlyphs">with the expectation it will garner a larger bullish</text>
<text x="950" y="327.2" textLength="238" lengthAdjust="spacingAndGlyphs">reaction due to a tightening balance.</text>

<text x="950" y="365.6" textLength="306" lengthAdjust="spacingAndGlyphs">Early in winter, colder and warmer trends led to</text>
<text x="950" y="384.8" textLength="298" lengthAdjust="spacingAndGlyphs">strong moves both higher and lower <tspan class="b" fill="#12a5e6">(“A” blue</tspan></text>
<text x="950" y="404" textLength="311" lengthAdjust="spacingAndGlyphs"><tspan class="b" fill="#12a5e6">arrow</tspan><tspan class="b"> and </tspan><tspan class="b" fill="#12a5e6">#1</tspan><tspan class="b"> &amp; </tspan><tspan class="b" fill="#ee1111">#2</tspan>).  However, since the start of</text>
<text x="950" y="423.2" textLength="320" lengthAdjust="spacingAndGlyphs">the year, and as surpluses were increasing, colder</text>
<text x="950" y="442.4" textLength="273" lengthAdjust="spacingAndGlyphs">trends or colder patterns led to only minor</text>
<text x="950" y="461.6" textLength="308" lengthAdjust="spacingAndGlyphs">bounces in prices, while bearish trends or warm</text>
<text x="950" y="480.8" textLength="314" lengthAdjust="spacingAndGlyphs">patterns resulted in large selloffs (<tspan class="b" fill="#ee1111">”B” red arrow</tspan></text>
<text x="950" y="500" textLength="296" lengthAdjust="spacingAndGlyphs"><tspan class="b">and </tspan><tspan class="b" fill="#f07d2a">#3,</tspan><tspan class="b" fill="#0aa04a"> #4,</tspan><tspan class="b"> and </tspan><tspan class="b" fill="#e040d0">#5</tspan>).  Essentially, cooler trends</text>
<text x="950" y="519.2" textLength="306" lengthAdjust="spacingAndGlyphs">and bullish patterns have resulted in only minor</text>
<text x="950" y="538.4" textLength="280" lengthAdjust="spacingAndGlyphs">price moves higher since Jan, while warmer</text>
<text x="950" y="557.6" textLength="308" lengthAdjust="spacingAndGlyphs">trends &amp; bearish patterns have resulted in large</text>
<text x="950" y="576.8" textLength="273" lengthAdjust="spacingAndGlyphs">moves lower.  This had continued recently,</text>
<text x="950" y="596" textLength="316" lengthAdjust="spacingAndGlyphs">evidenced by a cool late April into early May that</text>
<text x="950" y="615.2" textLength="277" lengthAdjust="spacingAndGlyphs">led to an only minor bounces in prices <tspan class="b" fill="#7030a0">(“C”</tspan></text>
<text x="950" y="634.4" textLength="306" lengthAdjust="spacingAndGlyphs"><tspan class="b" fill="#7030a0">purple arrow</tspan>).  Recently, prices have rallied but</text>
<text x="950" y="653.6" textLength="265" lengthAdjust="spacingAndGlyphs">not viewed as being at all due to weather</text>
<text x="950" y="672.8" textLength="300" lengthAdjust="spacingAndGlyphs">patterns since they remain to the bearish side.</text>
</g>

<!-- frame border -->
<rect x="1.5" y="1.5" width="1277" height="717" fill="none" stroke="#2c4c80" stroke-width="3"/>
</svg>
</body></html>
